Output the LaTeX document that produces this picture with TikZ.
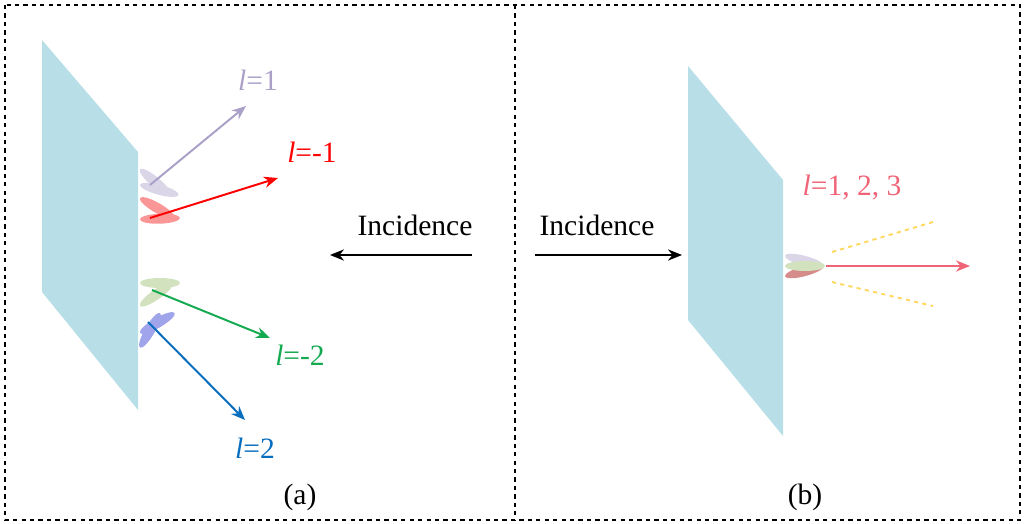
\documentclass[tikz,border=0pt]{standalone}
\usepackage{fontspec}
\setmainfont{Liberation Serif}
\usetikzlibrary{arrows.meta}
\definecolor{plate}{RGB}{184,223,232}
\definecolor{lav}{RGB}{170,160,200}
\definecolor{lavlobe}{RGB}{218,214,232}
\definecolor{redlobe}{RGB}{250,150,150}
\definecolor{grn}{RGB}{20,170,80}
\definecolor{grnlobe}{RGB}{210,225,190}
\definecolor{blu}{RGB}{10,110,190}
\definecolor{blulobe}{RGB}{160,165,235}
\definecolor{pnk}{RGB}{240,100,120}
\definecolor{darkred}{RGB}{215,140,140}
\definecolor{ylw}{RGB}{255,215,90}
\newcommand{\petal}[4]{\fill[#4] (#1,#2) ++(#3:20) ellipse[x radius=20,y radius=5,rotate=#3];}

\begin{document}
\begin{tikzpicture}[x=0.025cm,y=-0.025cm,
    lbl/.style={font=\fontsize{21}{24}\selectfont,inner sep=0pt},
    beam/.style={-{Stealth[length=10pt,width=8pt]},line width=1.4pt}]
    \useasboundingbox (0,0) rectangle (1025,524);
    \draw[dashed,line width=0.8pt] (5,5) rectangle (1020,520);
    \draw[dashed,line width=0.8pt] (515,5) -- (515,520);

    % (a)
    \fill[plate] (42,40) -- (138,152) -- (138,410) -- (42,292) -- cycle;
    \petal{140}{195}{-40}{lavlobe}
    \petal{140}{195}{-15}{lavlobe}
    \petal{140}{218}{-30}{redlobe}
    \petal{140}{218}{2}{redlobe}
    \petal{140}{283}{0}{grnlobe}
    \petal{140}{283}{35}{grnlobe}
    \petal{140}{313}{30}{blulobe}
    \petal{140}{313}{60}{blulobe}
    \coordinate (s1) at (150,185); \coordinate (e1) at (246,106);
    \coordinate (s2) at (150,218); \coordinate (e2) at (278,178);
    \coordinate (s3) at (152,290); \coordinate (e3) at (270,338);
    \coordinate (s4) at (148,322); \coordinate (e4) at (245,420);
    \draw[beam,lav] (s1) -- (e1);
    \draw[beam,red] (s2) -- (e2);
    \draw[beam,grn] (s3) -- (e3);
    \draw[beam,blu] (s4) -- (e4);
    \node[lbl,lav] (l1) at (258,80) {\textit{l}=1};
    \node[lbl,red] (l2) at (312,152) {\textit{l}=-1};
    \node[lbl,grn] (l3) at (300,355) {\textit{l}=-2};
    \node[lbl,blu] (l4) at (255,448) {\textit{l}=2};
    \node[lbl] (inca) at (415,225) {Incidence};
    \coordinate (ia1) at (472,255); \coordinate (ia2) at (330,255);
    \draw[beam,line width=1pt] (ia1) -- (ia2);
    \node[lbl] (capa) at (300,497) {(a)};

    % (b)
    \fill[plate] (688,66) -- (783,180) -- (783,436) -- (688,320) -- cycle;
    \petal{785}{266}{-15}{lavlobe}
    \petal{785}{266}{15}{darkred}
    \petal{785}{266}{0}{grnlobe}
    \coordinate (d1) at (832,252); \coordinate (d2) at (933,222);
    \coordinate (d3) at (832,282); \coordinate (d4) at (933,306);
    \draw[ylw,dashed,line width=1.3pt] (d1) -- (d2);
    \draw[ylw,dashed,line width=1.3pt] (d3) -- (d4);
    \coordinate (sb) at (826,266); \coordinate (eb) at (970,266);
    \draw[beam,pnk] (sb) -- (eb);
    \node[lbl,pnk] (l5) at (852,188) {\textit{l}=1, 2, 3};
    \node[lbl] (incb) at (597,225) {Incidence};
    \coordinate (ib1) at (535,255); \coordinate (ib2) at (682,255);
    \draw[beam,line width=1pt] (ib1) -- (ib2);
    \node[lbl] (capb) at (805,497) {(b)};
\end{tikzpicture}
\end{document}
